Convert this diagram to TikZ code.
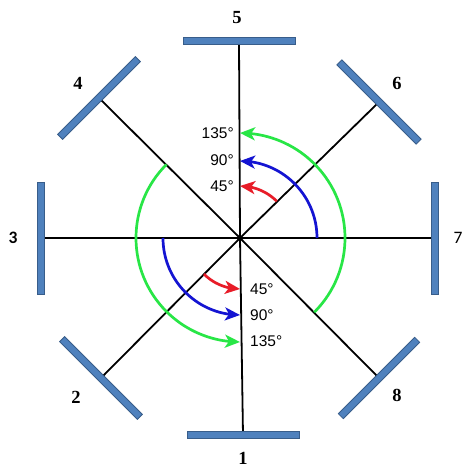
\documentclass[tikz,border=0pt]{standalone}
\usepackage{fontspec}
\setmainfont{Liberation Serif}
\newfontfamily\degfont{Liberation Sans}
\newfontfamily\calfont{Carlito}
\usetikzlibrary{arrows.meta,bending,calc}
\definecolor{barfill}{RGB}{79,129,189}
\definecolor{barline}{RGB}{56,93,138}
\definecolor{agreen}{RGB}{40,230,70}
\definecolor{ablue}{RGB}{20,20,210}
\definecolor{ared}{RGB}{232,28,40}
\begin{document}
\begin{tikzpicture}[x=1pt,y=-1pt,
  bar/.style={draw=barline, fill=barfill, line width=0.8pt, minimum width=112pt, minimum height=7pt, inner sep=0pt, outer sep=0pt},
  ray/.style={line width=1.8pt, black},
  arcarrow/.style={line width=2.7pt, -{Stealth[length=15pt,width=13pt,inset=4pt]}},
  deg/.style={font=\degfont\fontsize{15.5}{17}\selectfont, inner sep=0pt},
  num/.style={font=\fontsize{18.5}{20}\selectfont\bfseries, inner sep=0pt},
  calnum/.style={font=\calfont\fontsize{17.5}{19}\selectfont, inner sep=0pt}]
\useasboundingbox (0,0) rectangle (474,474);
\fill[white] (0,0) rectangle (474,474);
\coordinate (O) at (240,238);
% bar positions
\coordinate (p5) at (239,41);
\coordinate (p1) at (243,435);
\coordinate (p3) at (40.5,238);
\coordinate (p7) at (435,238);
\coordinate (p4) at (99,98);
\coordinate (p6) at (379,102);
\coordinate (p8) at (379,378);
\coordinate (p2) at (101,378);
% rays
\draw[ray] (p5) -- (O) -- (p1);
\draw[ray] (p3) -- (O) -- (p7);
\draw[ray] (p4) -- (O) -- (p8);
\draw[ray] (p2) -- (O) -- (p6);
% arcs (angles negative because y axis points down)
\draw[arcarrow, ared]   ($(O)+(-45:52)$) arc[start angle=-45, end angle=-90, radius=52];
\draw[arcarrow, ablue]  ($(O)+(0:77)$) arc[start angle=0, end angle=-90, radius=77];
\draw[arcarrow, agreen] ($(O)+(45:105)$) arc[start angle=45, end angle=-90, radius=105];
\draw[arcarrow, ared]   ($(O)+(135:51)$) arc[start angle=135, end angle=90, radius=51];
\draw[arcarrow, ablue]  ($(O)+(180:77)$) arc[start angle=180, end angle=90, radius=77];
\draw[arcarrow, agreen] ($(O)+(225:104)$) arc[start angle=225, end angle=90, radius=104];
% bars
\node[bar] (b5) at (p5) {};
\node[bar] (b1) at (p1) {};
\node[bar, rotate=90] (b3) at (p3) {};
\node[bar, rotate=90] (b7) at (p7) {};
\node[bar, rotate=45, minimum width=110pt] (b4) at (p4) {};
\node[bar, rotate=-45] (b6) at (p6) {};
\node[bar, rotate=45, minimum width=108pt] (b8) at (p8) {};
\node[bar, rotate=-45, minimum width=110pt] (b2) at (p2) {};
% numbers
\node[num] (n5) at (237,18) {5};
\node[num] (n1) at (243,458) {1};
\node[calnum, font=\calfont\bfseries\fontsize{17.5}{19}\selectfont] (n3) at (13,238) {3};
\node[calnum] (n7) at (458,238) {7};
\node[num] (n4) at (78,83) {4};
\node[num] (n6) at (397,83) {6};
\node[num] (n2) at (76,397) {2};
\node[num] (n8) at (397,395) {8};
% degree labels
\node[deg, anchor=east] (u135) at (234,133) {135°};
\node[deg, anchor=east] (u90) at (234,160) {90°};
\node[deg, anchor=east] (u45) at (234,186) {45°};
\node[deg, anchor=west] (l45) at (250,289) {45°};
\node[deg, anchor=west] (l90) at (250,315) {90°};
\node[deg, anchor=west] (l135) at (250,341) {135°};
\end{tikzpicture}
\end{document}
